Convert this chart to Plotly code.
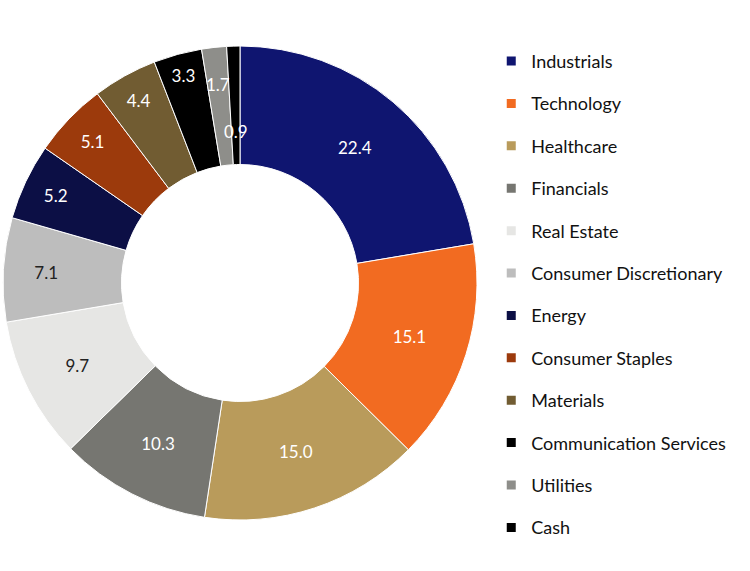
import math
import plotly.graph_objects as go

sectors = ["Industrials", "Technology", "Healthcare", "Financials", "Real Estate",
           "Consumer Discretionary", "Energy", "Consumer Staples", "Materials",
           "Communication Services", "Utilities", "Cash"]
weights = [22.4, 15.1, 15.0, 10.3, 9.7, 7.1, 5.2, 5.1, 4.4, 3.3, 1.7, 0.9]
colors = ["#0f1570", "#f26b21", "#b99b5b", "#767671", "#e6e6e4", "#bdbdbd",
          "#0c0f45", "#9c3a0c", "#715c32", "#000000", "#8e8e8a", "#000000"]
text_colors = ["white", "white", "white", "white", "#222222", "#222222",
               "white", "white", "white", "white", "white", "white"]
# slices too thin for inside text get a label placed along their bisector
small_label_radius = {"Utilities": 200, "Cash": 152}

FONT = "Lato, Arial, sans-serif"
W, H = 750, 571
CX, CY, R = 240, 283, 237

templates = ["" if s in small_label_radius else "%{value:.1f}" for s in sectors]

fig = go.Figure()
fig.add_trace(go.Pie(
    labels=sectors, values=weights, sort=False, direction="clockwise", rotation=0,
    hole=0.5, marker=dict(colors=colors, line=dict(color="white", width=1)),
    texttemplate=templates, textposition="inside",
    insidetextorientation="horizontal",
    textfont=dict(family=FONT, size=17, color=text_colors),
    showlegend=False,
    domain=dict(x=[(CX - R) / W, (CX + R) / W], y=[(H - CY - R) / H, (H - CY + R) / H]),
))

total = sum(weights)
cum = 0.0
for s, v, tc in zip(sectors, weights, text_colors):
    mid = (cum + v / 2) / total * 2 * math.pi
    cum += v
    if s in small_label_radius:
        r = small_label_radius[s]
        px = CX + r * math.sin(mid)
        py = CY - r * math.cos(mid)
        fig.add_annotation(x=px / W, y=1 - py / H, xref="paper", yref="paper",
                           xanchor="center", yanchor="middle",
                           text=f"{v:.1f}", showarrow=False,
                           font=dict(family=FONT, size=17, color=tc))

for name, col in zip(sectors, colors):
    fig.add_trace(go.Scatter(
        x=[None], y=[None], mode="markers", name=name, legendgroup=name,
        marker=dict(symbol="square", size=9, color=col),
        xaxis="x", yaxis="y",
    ))

fig.update_layout(
    width=W, height=H, margin=dict(l=0, r=0, t=0, b=0),
    paper_bgcolor="white", plot_bgcolor="white",
    font=dict(family=FONT, size=18, color="#111111"),
    xaxis=dict(visible=False), yaxis=dict(visible=False),
    legend=dict(x=0.655, y=0.925, xanchor="left", yanchor="top",
                tracegroupgap=16, itemwidth=30,
                font=dict(family=FONT, size=18, color="#111111")),
)

fig.write_html("out.html")
